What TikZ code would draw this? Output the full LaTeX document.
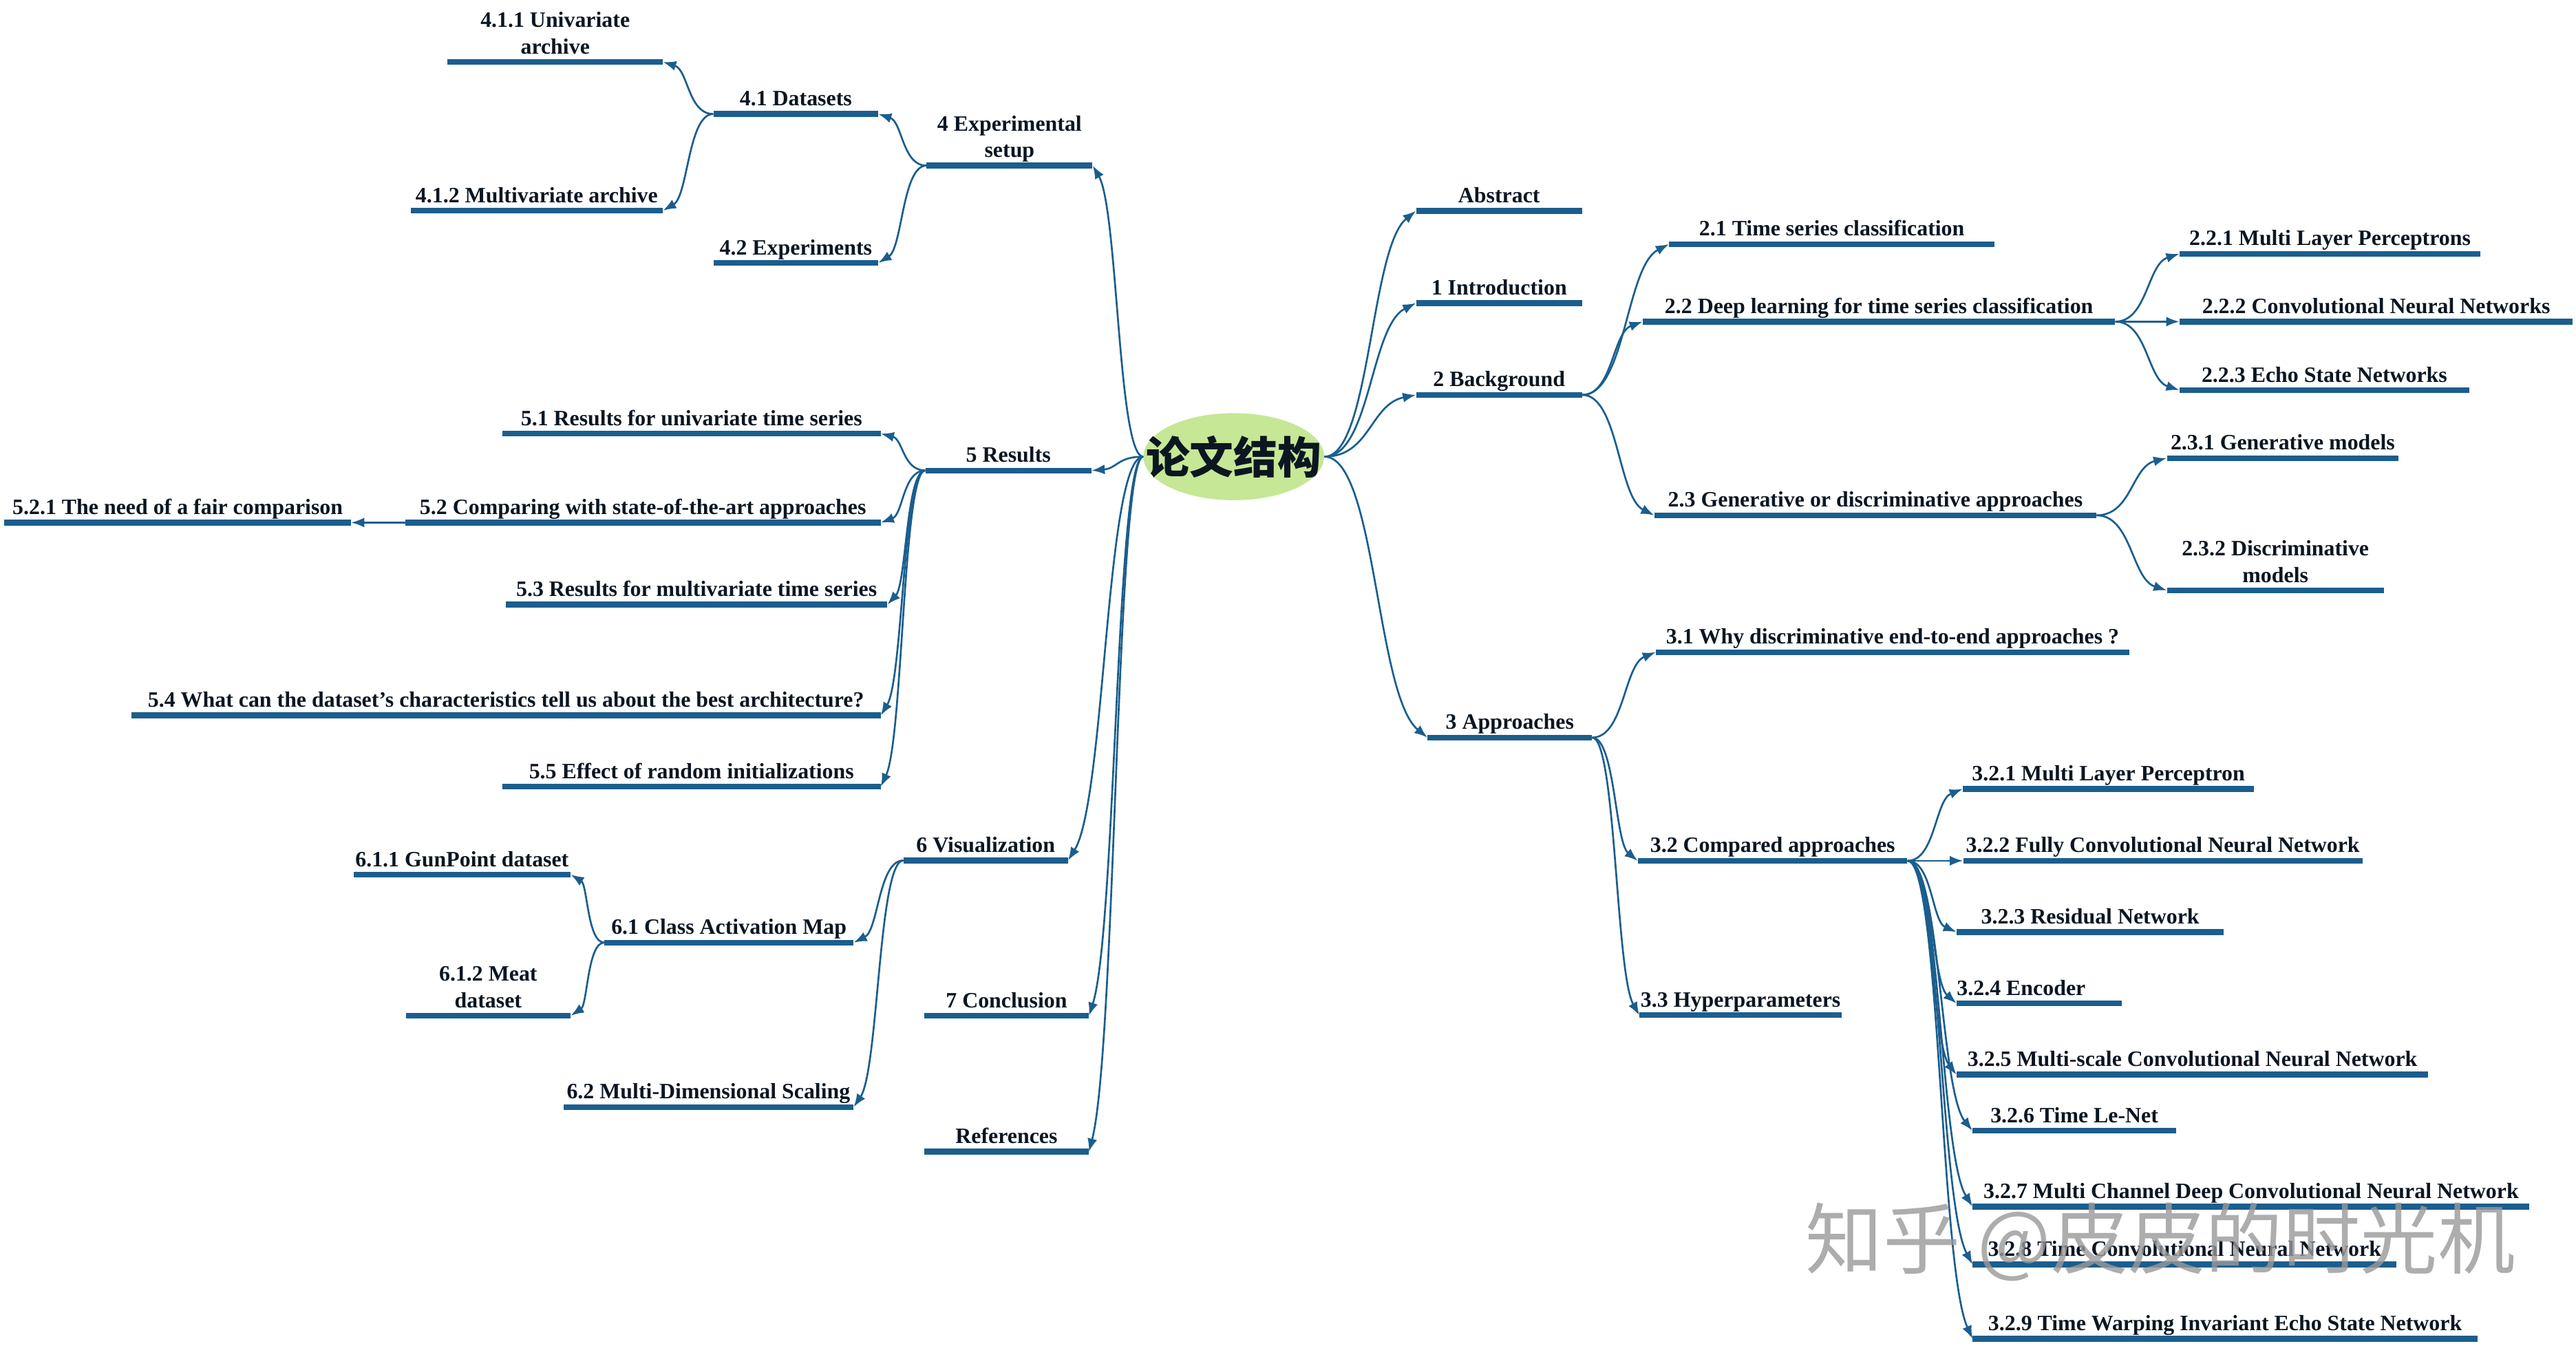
\documentclass[tikz,border=0pt]{standalone}
\usepackage{fontspec}
\setmainfont{Liberation Serif}
\newfontfamily\cjk{Noto Sans CJK SC}
\usetikzlibrary{arrows.meta,calc,shapes.geometric}
\definecolor{barblue}{HTML}{1B5E8E}
\definecolor{txt}{HTML}{0B1622}
\definecolor{egreen}{HTML}{C6E795}
\tikzset{
  bar/.style={rectangle, fill=barblue, draw=none, inner sep=0pt, minimum height=0.175cm},
  toplab/.style={font=\fontsize{19pt}{22.8pt}\selectfont\bfseries, text=txt, inner sep=0.06cm, text depth=0.25em},
  conn/.style={draw=barblue, line width=1.6pt, -{Latex[length=0.4cm,width=0.3cm]}},
  hub/.style={ellipse, fill=egreen, draw=none, minimum width=5.5cm, minimum height=2.65cm, inner sep=0pt, text=txt, font=\cjk\bfseries\fontsize{38pt}{40pt}\selectfont},
  wmark/.style={text=black!40, opacity=0.8, font=\cjk\fontsize{67pt}{70pt}\selectfont, inner sep=0pt}
}
\newcommand\twol[2]{\begin{tabular}[b]{@{}c@{}}#1\\#2\end{tabular}}
\newcommand\mmtopic[6][]{\node[bar, minimum width={(#3-#2)*0.05cm}, label={[toplab,#1]above:{#6}}] (#4) at ({(#2+#3)/2},#5) {};}
\newcommand\mmlink[2]{\draw[conn] let \p1=(#1), \p2=(#2) in (\p1) .. controls +({0.5*(\x2-\x1)},0) and +({-0.5*(\x2-\x1)},{-0.15*(\y2-\y1)}) .. (\p2);}
\begin{document}
\begin{tikzpicture}[x=0.05cm, y=-0.05cm]
\useasboundingbox (0,0) rectangle (1568,819);
% centre
\node[hub] (c) at (751,278) {\makebox[0pt]{论文结构}};
% right side, level 1
\mmtopic{862}{963}{abs}{128.4}{Abstract}
\mmtopic{862}{963}{intro}{184.5}{1 Introduction}
\mmtopic{862}{963}{bg}{240.4}{2 Background}
\mmtopic{869}{969}{appr}{449}{3 Approaches}
% 2.x
\mmtopic{1016}{1214}{s21}{148.6}{2.1 Time series classification}
\mmtopic{1000}{1287.4}{s22}{195.8}{2.2 Deep learning for time series classification}
\mmtopic{1007}{1276}{s23}{313.7}{2.3 Generative or discriminative approaches}
\mmtopic{1326.7}{1509.8}{s221}{154.5}{2.2.1 Multi Layer Perceptrons}
\mmtopic{1326.7}{1566}{s222}{195.8}{2.2.2 Convolutional Neural Networks}
\mmtopic{1326.7}{1503}{s223}{237.5}{2.2.3 Echo State Networks}
\mmtopic{1319}{1460}{s231}{278.9}{2.3.1 Generative models}
\mmtopic{1319}{1451}{s232}{359.4}{\twol{2.3.2 Discriminative}{models}}
% 3.x
\mmtopic{1008}{1296}{s31}{397}{3.1 Why discriminative end-to-end approaches ?}
\mmtopic{997}{1161}{s32}{524}{3.2 Compared approaches}
\mmtopic{998}{1121}{s33}{618}{3.3 Hyperparameters}
\mmtopic{1194.8}{1372}{s321}{480.3}{3.2.1 Multi Layer Perceptron}
\mmtopic{1195}{1438}{s322}{524}{3.2.2 Fully Convolutional Neural Network}
\mmtopic{1191}{1353.6}{s323}{567.4}{3.2.3 Residual Network}
\mmtopic[xshift=-0.55cm]{1191}{1291.6}{s324}{610.8}{3.2.4 Encoder}
\mmtopic{1191}{1478}{s325}{654.2}{3.2.5 Multi-scale Convolutional Neural Network}
\mmtopic{1200.7}{1324.6}{s326}{688.3}{3.2.6 Time Le-Net}
\mmtopic{1200.8}{1539.7}{s327}{734.5}{3.2.7 Multi Channel Deep Convolutional Neural Network}
\mmtopic{1200.8}{1458.7}{s328}{769.7}{3.2.8 Time Convolutional Neural Network}
\mmtopic{1200.8}{1508}{s329}{815}{3.2.9 Time Warping Invariant Echo State Network}
% left side, level 1
\mmtopic{564}{665}{exp}{100.8}{\twol{4 Experimental}{setup}}
\mmtopic{563.3}{664.3}{res}{286.4}{5 Results}
\mmtopic{550}{650}{vis}{523.8}{6 Visualization}
\mmtopic{562.6}{662.7}{concl}{618.3}{7 Conclusion}
\mmtopic{562.6}{662.7}{refs}{701.1}{References}
% 4.x
\mmtopic{434.3}{534.5}{s41}{69.4}{4.1 Datasets}
\mmtopic{434.3}{534.5}{s42}{160}{4.2 Experiments}
\mmtopic{272.5}{403.4}{s411}{37.7}{\twol{4.1.1 Univariate}{archive}}
\mmtopic{250}{403.4}{s412}{128.2}{4.1.2 Multivariate archive}
% 5.x
\mmtopic{305.8}{536}{s51}{264}{5.1 Results for univariate time series}
\mmtopic{246.7}{536}{s52}{318.1}{5.2 Comparing with state-of-the-art approaches}
\mmtopic{2.7}{213.6}{s521}{318.1}{5.2.1 The need of a fair comparison}
\mmtopic{308}{540}{s53}{368}{5.3 Results for multivariate time series}
\mmtopic{80}{536}{s54}{435.5}{5.4 What can the dataset’s characteristics tell us about the best architecture?}
\mmtopic{305.8}{536}{s55}{478.8}{5.5 Effect of random initializations}
% 6.x
\mmtopic{367.9}{519.5}{s61}{573.8}{6.1 Class Activation Map}
\mmtopic{343}{519.5}{s62}{673.9}{6.2 Multi-Dimensional Scaling}
\mmtopic{215.2}{347.3}{s611}{532.4}{6.1.1 GunPoint dataset}
\mmtopic{247}{347.3}{s612}{618.3}{\twol{6.1.2 Meat}{dataset}}
% connectors, right
\mmlink{c.east}{abs.west}
\mmlink{c.east}{intro.west}
\mmlink{c.east}{bg.west}
\mmlink{c.east}{appr.west}
\mmlink{bg.east}{s21.west}
\mmlink{bg.east}{s22.west}
\mmlink{bg.east}{s23.west}
\mmlink{s22.east}{s221.west}
\mmlink{s22.east}{s222.west}
\mmlink{s22.east}{s223.west}
\mmlink{s23.east}{s231.west}
\mmlink{s23.east}{s232.west}
\mmlink{appr.east}{s31.west}
\mmlink{appr.east}{s32.west}
\mmlink{appr.east}{s33.west}
\mmlink{s32.east}{s321.west}
\mmlink{s32.east}{s322.west}
\mmlink{s32.east}{s323.west}
\mmlink{s32.east}{s324.west}
\mmlink{s32.east}{s325.west}
\mmlink{s32.east}{s326.west}
\mmlink{s32.east}{s327.west}
\mmlink{s32.east}{s328.west}
\mmlink{s32.east}{s329.west}
% connectors, left
\mmlink{c.west}{exp.east}
\mmlink{c.west}{res.east}
\mmlink{c.west}{vis.east}
\mmlink{c.west}{concl.east}
\mmlink{c.west}{refs.east}
\mmlink{exp.west}{s41.east}
\mmlink{exp.west}{s42.east}
\mmlink{s41.west}{s411.east}
\mmlink{s41.west}{s412.east}
\mmlink{res.west}{s51.east}
\mmlink{res.west}{s52.east}
\mmlink{res.west}{s53.east}
\mmlink{res.west}{s54.east}
\mmlink{res.west}{s55.east}
\mmlink{s52.west}{s521.east}
\mmlink{vis.west}{s61.east}
\mmlink{vis.west}{s62.east}
\mmlink{s61.west}{s611.east}
\mmlink{s61.west}{s612.east}
% watermark
\node[wmark] (wm) at (1315,756) {知乎 @皮皮的时光机};
\end{tikzpicture}
\end{document}
